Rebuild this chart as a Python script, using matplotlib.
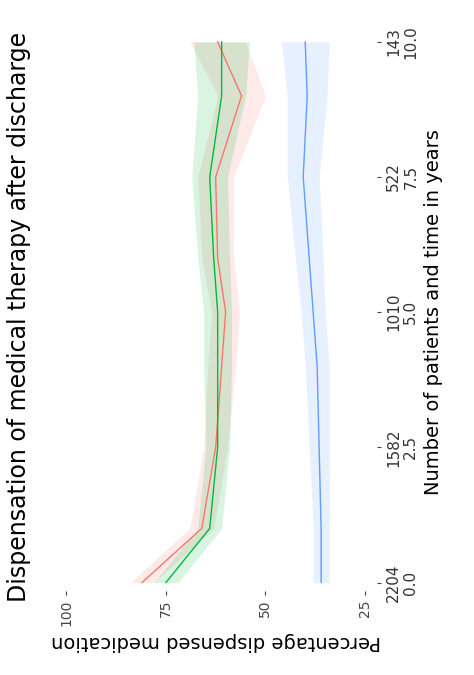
import matplotlib.pyplot as plt

# time points (years) and patients at risk
years = [0, 1, 2.5, 4, 5, 6, 7.5, 9, 10]
red = [81, 66, 62.5, 61, 60, 62, 62.5, 56, 62]
green = [75, 64, 62, 62, 62, 63, 64, 61, 61]
blue = [36, 36, 36.5, 37, 38, 39, 40.5, 39.5, 40]
red_ci = [3, 3, 3, 3.5, 3.5, 4, 4.5, 6, 7]
green_ci = [3, 3, 3, 3.5, 3.5, 4, 4.5, 6, 7]
blue_ci = [2, 2, 2.5, 3, 3, 3.5, 4, 5, 6]
tick_years = [0, 2.5, 5, 7.5, 10]
patients = ["2204", "1582", "1010", "522", "143"]
pct_ticks = [25, 50, 75, 100]

fig = plt.figure(figsize=(4.74, 6.75), dpi=100)
ax = fig.add_axes([0.115, 0.125, 0.68, 0.825])

for vals, ci, col in [(red, red_ci, "#F8766D"), (green, green_ci, "#00BA38"), (blue, blue_ci, "#619CFF")]:
    lo = [v - c for v, c in zip(vals, ci)]
    hi = [v + c for v, c in zip(vals, ci)]
    ax.fill_betweenx(years, lo, hi, color=col, alpha=0.15, linewidth=0)
    ax.plot(vals, years, color=col, linewidth=1)

ax.set_xlim(103, 22)
ax.set_ylim(-0.15, 10.15)
for s in ax.spines.values():
    s.set_visible(False)

ax.set_xticks(pct_ticks)
ax.set_xticklabels([str(p) for p in pct_ticks], rotation=90, fontsize=10, color="#444444")
ax.tick_params(axis="x", length=3, color="#444444")
ax.set_xlabel("Percentage dispensed medication", rotation=180, fontsize=14)

ax.yaxis.tick_right()
ax.yaxis.set_label_position("right")
ax.set_yticks(tick_years)
ax.set_yticklabels(["%s\n%.1f" % (p, t) for p, t in zip(patients, tick_years)],
                   rotation=90, va="center", fontsize=11, color="#333333", multialignment="center")
ax.tick_params(axis="y", length=3, color="#444444")
ax.set_ylabel("Number of patients and time in years", rotation=90, fontsize=14, labelpad=4)

fig.text(0.04, 0.53, "Dispensation of medical therapy after discharge", rotation=90,
         fontsize=17, va="center", ha="center")

fig.savefig("out.png")
